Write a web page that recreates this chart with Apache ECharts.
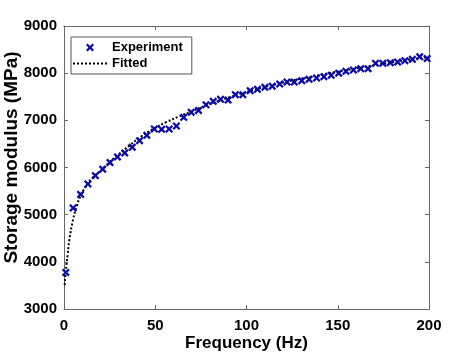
<!DOCTYPE html>
<html>
<head>
<meta charset="utf-8">
<script src="https://cdn.jsdelivr.net/npm/echarts@6/dist/echarts.min.js"></script>
<style>
html,body{margin:0;padding:0;background:#fff;}
#chart{width:474px;height:355px;}
</style>
</head>
<body>
<div id="chart"></div>
<script>
// Experiment data (Frequency in Hz, Storage modulus in MPa)
const expFreq = [1, 5, 9.1, 13.1, 17.2, 21.2, 25.2, 29.3, 33.3, 37.4,
  41.4, 45.4, 49.5, 53.5, 57.6, 61.6, 65.6, 69.7, 73.7, 77.8,
  81.8, 85.8, 89.9, 93.9, 98.0, 102.0, 106.0, 110.1, 114.1, 118.2,
  122.2, 126.2, 130.3, 134.3, 138.4, 142.4, 146.4, 150.5, 154.5, 158.6,
  162.6, 166.6, 170.7, 174.7, 178.8, 182.8, 186.8, 190.9, 194.9, 199.0];
const expModulus = [3775, 5141, 5430, 5650, 5826, 5965, 6105, 6225, 6310, 6430,
  6568, 6682, 6816, 6810, 6816, 6880, 7064, 7170, 7210, 7330,
  7403, 7446, 7430, 7543, 7543, 7628, 7657, 7700, 7725, 7770,
  7812, 7812, 7840, 7870, 7897, 7925, 7954, 8000, 8039, 8067,
  8095, 8095, 8209, 8209, 8223, 8236, 8265, 8294, 8349, 8310];

// Fitted curve
const fitFreq = [0.4, 1, 2, 3, 5, 7, 9, 12, 15, 20, 25, 30, 36, 42, 49, 56, 63, 70, 78, 90, 100, 120, 140, 160, 180, 200];
const fitModulus = [3510, 3810, 4160, 4480, 4900, 5180, 5390, 5600, 5760, 5930, 6120, 6280, 6470, 6650, 6820, 6960, 7080, 7190, 7320, 7480, 7600, 7800, 7960, 8100, 8230, 8350];

// Axis ticks
const xTicks = {min: 0, max: 200, interval: 50};
const yTicks = {min: 3000, max: 9000, interval: 1000};

const seriesNames = ['Experiment', 'Fitted'];
const xTitle = 'Frequency (Hz)';
const yTitle = 'Storage modulus (MPa)';

const markColor = '#0a0aa8';
const xSymbol = 'path://M0,2L2,0L5,3L8,0L10,2L7,5L10,8L8,10L5,7L2,10L0,8L3,5Z';
const frameColor = '#666';
const font = 'Liberation Sans, Arial, sans-serif';

const chart = echarts.init(document.getElementById('chart'), null, {renderer: 'canvas'});

const labelStyle = {color: '#000', fontSize: 15, fontWeight: 'bold', fontFamily: font};
const plain = v => String(v);

chart.setOption({
  animation: false,
  backgroundColor: '#fff',
  grid: {left: 64, right: 45, top: 26, bottom: 46, containLabel: false, outerBoundsMode: 'none'},
  legend: {
    orient: 'vertical',
    left: 71, top: 37,
    padding: [3, 9, 3, 1],
    itemGap: 1,
    itemWidth: 34, itemHeight: 8,
    borderColor: '#555', borderWidth: 1,
    backgroundColor: '#fff',
    textStyle: {color: '#000', fontSize: 13, fontWeight: 'bold', fontFamily: font, lineHeight: 15},
    data: [
      {name: seriesNames[0], icon: xSymbol},
      {name: seriesNames[1], itemStyle: {opacity: 0}}
    ]
  },
  xAxis: [{
    type: 'value', position: 'bottom',
    min: xTicks.min, max: xTicks.max, interval: xTicks.interval,
    name: xTitle, nameLocation: 'middle', nameGap: 26, nameMoveOverlap: false,
    nameTextStyle: {color: '#000', fontSize: 17, fontWeight: 'bold', fontFamily: font},
    axisLine: {show: true, lineStyle: {color: frameColor, width: 1}},
    axisTick: {show: true, inside: true, length: 4, lineStyle: {color: frameColor}},
    axisLabel: Object.assign({margin: 9, formatter: plain}, labelStyle),
    splitLine: {show: false}
  }, {
    type: 'value', position: 'top',
    min: xTicks.min, max: xTicks.max, interval: xTicks.interval,
    axisLine: {show: true, onZero: false, lineStyle: {color: frameColor, width: 1}},
    axisTick: {show: true, inside: true, length: 4, lineStyle: {color: frameColor}},
    axisLabel: {show: false},
    splitLine: {show: false}
  }],
  yAxis: [{
    type: 'value', position: 'left',
    min: yTicks.min, max: yTicks.max, interval: yTicks.interval,
    name: yTitle, nameLocation: 'middle', nameGap: 43, nameMoveOverlap: false,
    nameTextStyle: {color: '#000', fontSize: 19, fontWeight: 'bold', fontFamily: font, padding: [0, 0, 0, 20]},
    axisLine: {show: true, lineStyle: {color: frameColor, width: 1}},
    axisTick: {show: true, inside: true, length: 4, lineStyle: {color: frameColor}},
    axisLabel: Object.assign({margin: 7, formatter: plain}, labelStyle),
    splitLine: {show: false}
  }, {
    type: 'value', position: 'right',
    min: yTicks.min, max: yTicks.max, interval: yTicks.interval,
    axisLine: {show: true, onZero: false, lineStyle: {color: frameColor, width: 1}},
    axisTick: {show: true, inside: true, length: 4, lineStyle: {color: frameColor}},
    axisLabel: {show: false},
    splitLine: {show: false}
  }],
  series: [{
    name: seriesNames[1],
    type: 'line',
    xAxisIndex: 0, yAxisIndex: 0,
    data: fitFreq.map((f, i) => [f, fitModulus[i]]),
    smooth: true,
    symbol: 'none',
    lineStyle: {color: '#000', width: 2, type: [2, 2]},
    itemStyle: {color: '#000'},
    z: 2
  }, {
    name: seriesNames[0],
    type: 'scatter',
    xAxisIndex: 0, yAxisIndex: 0,
    data: expFreq.map((f, i) => [f, expModulus[i]]),
    symbol: xSymbol,
    symbolSize: 8,
    symbolKeepAspect: true,
    itemStyle: {color: markColor, opacity: 1},
    z: 3
  }]
});
</script>
</body>
</html>
